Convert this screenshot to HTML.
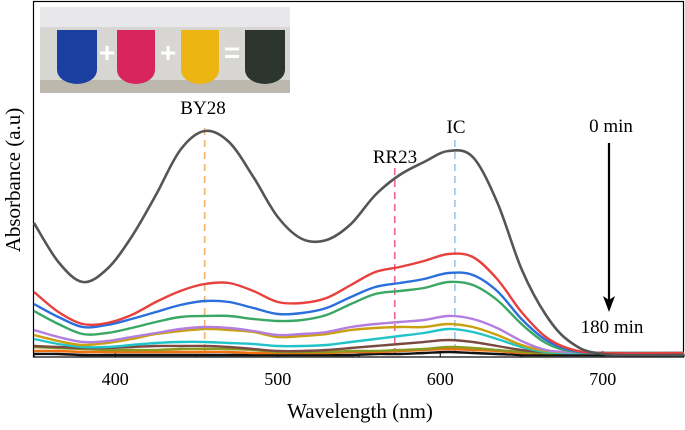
<!DOCTYPE html>
<html><head><meta charset="utf-8"><style>
body{margin:0;background:#fff;}
svg text{font-family:"Liberation Serif",serif;}
</style></head><body>
<svg id="chart" width="685" height="425" viewBox="0 0 685 425" xmlns="http://www.w3.org/2000/svg">
<rect x="33.5" y="1.5" width="650" height="355.5" fill="none" stroke="#000" stroke-width="1.2"/>
<g id="inset">
<rect x="40" y="7" width="250" height="86" fill="#d8d6d2"/>
<rect x="40" y="7" width="250" height="20" fill="#e8e8ea"/>
<rect x="40" y="80" width="250" height="13" fill="#bdb8ae"/>
<path d="M57 30 h40 v40 a20 14 0 0 1 -40 0z" fill="#1b3fa0"/>
<path d="M117 30 h38 v40 a19 14 0 0 1 -38 0z" fill="#d8245e"/>
<path d="M181 30 h38 v40 a19 14 0 0 1 -38 0z" fill="#ecb512"/>
<path d="M245 30 h40 v40 a20 14 0 0 1 -40 0z" fill="#2c3530"/>
<text x="107" y="62" font-size="28" font-weight="bold" fill="#fff" text-anchor="middle" style="font-family:'Liberation Sans',sans-serif">+</text>
<text x="168" y="62" font-size="28" font-weight="bold" fill="#fff" text-anchor="middle" style="font-family:'Liberation Sans',sans-serif">+</text>
<text x="232" y="62" font-size="28" font-weight="bold" fill="#fff" text-anchor="middle" style="font-family:'Liberation Sans',sans-serif">=</text>
</g>
<g id="ticks"></g>
<g id="markers"></g>
<g id="curves"></g>
<text x="203" y="114" font-size="19" text-anchor="middle">BY28</text>
<text x="395" y="163" font-size="19" text-anchor="middle">RR23</text>
<text x="456" y="133" font-size="19" text-anchor="middle">IC</text>
<text x="611" y="132" font-size="19" text-anchor="middle">0 min</text>
<line x1="609" y1="143" x2="609" y2="300" stroke="#000" stroke-width="2.2"/>
<path d="M603 296 L609 312 L615 296 L609 300z" fill="#000"/>
<text x="612" y="333" font-size="19" text-anchor="middle">180 min</text>
<text x="360" y="418" font-size="21" text-anchor="middle">Wavelength (nm)</text>
<text transform="translate(20,180) rotate(-90)" font-size="21" text-anchor="middle">Absorbance (a.u)</text>
</svg>
<script>
const xTicks = [400, 500, 600, 700];
const xMinor = [350, 450, 550, 650, 750];
const markerNm = [455, 572, 609];
const markerColors = ["#f6b06a", "#f0609a", "#9cc4e8"];
const markerTops = [2.29, 1.89, 2.17];
const wl = [350,365,380,395,410,425,440,455,470,485,500,515,530,545,560,575,590,605,620,635,650,665,680,700,750];
const s0 = [1.34,0.95,0.75,0.88,1.20,1.62,2.07,2.26,2.15,1.80,1.40,1.18,1.17,1.33,1.62,1.82,1.95,2.06,2.00,1.55,0.88,0.42,0.15,0.03,0.02];
const s1 = [0.65,0.45,0.33,0.34,0.42,0.55,0.66,0.73,0.74,0.66,0.55,0.54,0.59,0.72,0.85,0.90,0.96,1.03,1.00,0.78,0.45,0.20,0.08,0.04,0.04];
const s2 = [0.53,0.40,0.30,0.32,0.38,0.45,0.52,0.56,0.55,0.49,0.43,0.44,0.49,0.60,0.70,0.74,0.78,0.84,0.82,0.66,0.38,0.17,0.07,0.04,0.04];
const s3 = [0.46,0.33,0.23,0.24,0.29,0.35,0.40,0.41,0.41,0.38,0.36,0.37,0.42,0.53,0.63,0.66,0.69,0.75,0.72,0.57,0.33,0.14,0.06,0.04,0.04];
const s4 = [0.27,0.20,0.15,0.16,0.20,0.24,0.28,0.30,0.29,0.26,0.22,0.23,0.25,0.30,0.33,0.35,0.37,0.41,0.38,0.29,0.16,0.07,0.05,0.04,0.04];
const s5 = [0.22,0.16,0.12,0.14,0.18,0.23,0.26,0.28,0.27,0.25,0.20,0.21,0.23,0.27,0.29,0.30,0.30,0.33,0.30,0.22,0.12,0.06,0.05,0.04,0.04];
const s6 = [0.18,0.13,0.10,0.10,0.12,0.14,0.15,0.15,0.14,0.13,0.11,0.11,0.12,0.15,0.18,0.21,0.24,0.28,0.25,0.18,0.10,0.05,0.04,0.04,0.04];
const s7 = [0.11,0.10,0.09,0.09,0.10,0.11,0.11,0.11,0.10,0.08,0.06,0.06,0.07,0.09,0.11,0.13,0.15,0.17,0.15,0.11,0.07,0.05,0.04,0.04,0.04];
const s8 = [0.10,0.09,0.08,0.07,0.07,0.07,0.08,0.08,0.08,0.07,0.05,0.05,0.05,0.06,0.06,0.07,0.08,0.10,0.09,0.07,0.05,0.04,0.04,0.04,0.04];
const s9 = [0.06,0.06,0.05,0.05,0.05,0.05,0.05,0.05,0.05,0.04,0.04,0.04,0.04,0.05,0.05,0.06,0.07,0.08,0.07,0.06,0.04,0.04,0.04,0.04,0.04];
const s10 = [0.03,0.03,0.02,0.02,0.02,0.02,0.02,0.02,0.02,0.02,0.02,0.02,0.02,0.02,0.03,0.03,0.04,0.05,0.04,0.03,0.02,0.02,0.02,0.02,0.02];
const series = [s0,s1,s2,s3,s4,s5,s6,s7,s8,s9,s10];
const seriesNames = ["0-min","t1","t2","t3","t4","t5","t6","t7","t8","t9","180-min"];
const colors = ["#555555","#e8403c","#2a6fdc","#3aa864","#b37ee0","#c9a010","#20c4c8","#7a4a40","#8a9a20","#f07010","#111111"];

const NS = "http://www.w3.org/2000/svg";
function xs(nm){ return 34 + (nm - 350) * 1.625; }
function ys(a){ return 357 - a * 100; }
function pathFrom(xv, yv){
  const p = xv.map((v,i)=>[xs(v), ys(yv[i])]);
  let d = "M" + p[0][0].toFixed(1) + " " + p[0][1].toFixed(1);
  for (let i=0;i<p.length-1;i++){
    const p0 = p[Math.max(0,i-1)], p1 = p[i], p2 = p[i+1], p3 = p[Math.min(p.length-1,i+2)];
    const c1x = p1[0] + (p2[0]-p0[0])/6, c1y = p1[1] + (p2[1]-p0[1])/6;
    const c2x = p2[0] - (p3[0]-p1[0])/6, c2y = p2[1] - (p3[1]-p1[1])/6;
    d += " C" + c1x.toFixed(1)+" "+c1y.toFixed(1)+" "+c2x.toFixed(1)+" "+c2y.toFixed(1)+" "+p2[0].toFixed(1)+" "+p2[1].toFixed(1);
  }
  return d;
}
const tg = document.getElementById('ticks');
xTicks.forEach(t=>{
  const l = document.createElementNS(NS,'line');
  l.setAttribute('x1', xs(t)); l.setAttribute('x2', xs(t));
  l.setAttribute('y1', 357); l.setAttribute('y2', 351);
  l.setAttribute('stroke','#000');
  
  
  tg.appendChild(l);
  const tx = document.createElementNS(NS,'text');
  tx.setAttribute('x', xs(t)); tx.setAttribute('y', 385);
  tx.setAttribute('font-size', 18); tx.setAttribute('text-anchor','middle');
  tx.textContent = t;
  
  
  tg.appendChild(tx);
});
xMinor.forEach(t=>{
  const l = document.createElementNS(NS,'line');
  l.setAttribute('x1', xs(t)); l.setAttribute('x2', xs(t));
  l.setAttribute('y1', 357); l.setAttribute('y2', 354);
  l.setAttribute('stroke','#000');
  
  
  tg.appendChild(l);
});
const mg = document.getElementById('markers');
markerNm.forEach((m,i)=>{
  const l = document.createElementNS(NS,'line');
  l.setAttribute('x1', xs(m)); l.setAttribute('x2', xs(m));
  l.setAttribute('y1', ys(markerTops[i])); l.setAttribute('y2', 356);
  l.setAttribute('stroke', markerColors[i]); l.setAttribute('stroke-width', 1.6);
  l.setAttribute('stroke-dasharray', '7 5');
  
  
  mg.appendChild(l);
});
const cg = document.getElementById('curves');
for (let i = series.length-1; i >= 0; i--){
  const p = document.createElementNS(NS,'path');
  p.setAttribute('d', pathFrom(wl, series[i]));
  p.setAttribute('fill','none');
  p.setAttribute('stroke', colors[i]);
  p.setAttribute('stroke-width', i===0 ? 2.6 : 2.4);
  
  
  cg.appendChild(p);
}
</script>
</body></html>
